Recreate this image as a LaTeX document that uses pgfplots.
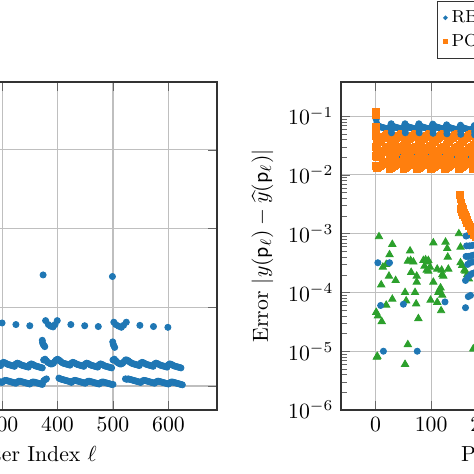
\documentclass[border=0pt]{standalone}
\usepackage{pgfplots}
\usepackage{pgfplotstable}
\pgfplotsset{compat=1.18}

\definecolor{rbblue}{HTML}{1F77B4}
\definecolor{podorange}{HTML}{FF7F0E}
\definecolor{nngreen}{HTML}{2CA02C}

% left panel: two bands of the RB error indicator (x lo hi)
\pgfplotstableread{
x     lo     hi
290   1.065  1.275
292.5 1.060  1.270
295   1.055  1.265
297.5 1.050  1.260
300   1.045  1.290
302.5 1.060  1.300
305   1.070  1.295
307.5 1.070  1.285
310   1.065  1.275
312.5 1.060  1.270
315   1.055  1.265
317.5 1.050  1.260
320   1.045  1.255
322.5 1.040  1.250
325   1.035  1.280
327.5 1.050  1.290
330   1.060  1.285
332.5 1.060  1.275
335   1.055  1.265
337.5 1.050  1.260
340   1.045  1.255
342.5 1.040  1.250
345   1.035  1.245
347.5 1.030  1.240
350   1.025  1.270
352.5 1.040  1.280
355   1.050  1.275
357.5 1.050  1.265
360   1.045  1.255
362.5 1.040  1.250
365   1.035  1.245
367.5 1.030  1.240
370   1.025  1.235
372.5 1.020  1.230
375   1.065  1.330
377.5 1.080  1.340
380   1.090  1.320
382.5 nan    1.300
385   nan    1.290
387.5 nan    1.280
390   nan    1.280
392.5 nan    1.290
395   nan    1.310
397.5 nan    1.330
400   nan    1.340
402.5 1.100  1.330
405   1.090  1.315
407.5 1.085  1.300
410   1.080  1.290
412.5 1.075  1.285
415   1.070  1.280
417.5 1.065  1.275
420   1.060  1.270
422.5 1.055  1.265
425   1.045  1.290
427.5 1.060  1.300
430   1.070  1.295
432.5 1.070  1.285
435   1.065  1.275
437.5 1.060  1.270
440   1.055  1.265
442.5 1.050  1.260
445   1.045  1.255
447.5 1.040  1.250
450   1.035  1.280
452.5 1.050  1.290
455   1.060  1.285
457.5 1.060  1.275
460   1.055  1.265
462.5 1.050  1.260
465   1.045  1.255
467.5 1.040  1.250
470   1.035  1.245
472.5 1.030  1.240
475   1.025  1.270
477.5 1.040  1.280
480   1.050  1.275
482.5 1.050  1.265
485   1.045  1.255
487.5 1.040  1.250
490   1.035  1.245
492.5 1.030  1.240
495   1.025  1.235
497.5 1.020  1.230
500   1.020  1.330
502.5 nan    1.340
505   nan    1.320
507.5 nan    1.300
510   nan    1.290
512.5 nan    1.280
515   nan    1.280
517.5 nan    1.290
520   nan    1.310
522.5 1.090  1.330
525   1.085  1.330
527.5 1.090  1.320
530   1.085  1.305
532.5 1.080  1.295
535   1.075  1.285
537.5 1.070  1.280
540   1.065  1.275
542.5 1.060  1.270
545   1.055  1.265
547.5 1.050  1.260
550   1.045  1.290
552.5 1.060  1.300
555   1.070  1.295
557.5 1.070  1.285
560   1.065  1.275
562.5 1.060  1.270
565   1.055  1.265
567.5 1.050  1.260
570   1.045  1.255
572.5 1.040  1.250
575   1.035  1.280
577.5 1.050  1.290
580   1.060  1.285
582.5 1.060  1.275
585   1.055  1.265
587.5 1.050  1.260
590   1.045  1.255
592.5 1.040  1.250
595   1.035  1.245
597.5 1.030  1.240
600   1.025  1.270
602.5 1.040  1.280
605   1.050  1.275
607.5 1.050  1.265
610   1.045  1.255
612.5 1.040  1.250
615   1.035  1.245
617.5 1.030  1.240
620   1.025  1.235
622.5 1.020  1.230
625   1.015  nan
}\leftbands

% right panel: error bands (blue upper/lower, orange upper/mid/lower)
\pgfplotstableread{
x     bu     bl      ou     om      ol
0     0.100  nan     0.045  0.030   0.0210
2.5   0.070  nan     0.033  0.020   0.0130
5     0.068  nan     0.036  0.021   0.0135
7.5   0.066  nan     0.038  0.022   0.0140
10    0.065  nan     0.040  0.023   0.0145
12.5  0.064  nan     0.042  0.0245  0.0150
15    0.063  nan     0.044  0.026   0.0155
17.5  0.062  nan     0.046  0.0275  0.0160
20    0.061  nan     0.048  0.029   0.0165
22.5  0.060  nan     0.050  0.030   0.0170
25    0.064  nan     0.030  0.019   0.0125
27.5  0.070  0.0215  0.033  0.020   0.0130
30    0.068  0.0213  0.036  0.021   0.0135
32.5  0.066  0.0212  0.038  0.022   0.0140
35    0.065  0.0214  0.040  0.023   0.0145
37.5  0.064  0.0216  0.042  0.0245  0.0150
40    0.063  0.0215  0.044  0.026   0.0155
42.5  0.062  0.0213  0.046  0.0275  0.0160
45    0.061  0.0212  0.048  0.029   0.0165
47.5  0.060  0.0214  0.050  0.030   0.0170
50    0.064  0.0216  0.031  0.019   0.0124
52.5  0.071  0.0215  0.034  0.020   0.0129
55    0.068  0.0213  0.036  0.021   0.0134
57.5  0.066  0.0212  0.038  0.022   0.0139
60    0.065  0.0214  0.040  0.023   0.0145
62.5  0.064  0.0216  0.042  0.0245  0.0150
65    0.063  0.0215  0.044  0.026   0.0155
67.5  0.062  0.0213  0.046  0.0275  0.0160
70    0.061  0.0212  0.048  0.029   0.0165
72.5  0.060  0.0214  0.050  0.030   0.0170
75    0.064  0.0216  0.030  0.019   0.0125
77.5  0.071  0.0215  0.033  0.020   0.0130
80    0.068  0.0213  0.036  0.021   0.0135
82.5  0.066  0.0212  0.038  0.022   0.0140
85    0.065  0.0214  0.040  0.023   0.0145
87.5  0.064  0.0216  0.042  0.0245  0.0150
90    0.063  0.0215  0.044  0.026   0.0155
92.5  0.062  0.0213  0.046  0.0275  0.0160
95    0.061  0.0212  0.048  0.029   0.0165
97.5  0.060  0.0214  0.050  0.030   0.0170
100   0.064  0.0216  0.031  0.019   0.0126
102.5 0.070  0.0215  0.034  0.020   0.0131
105   0.068  0.0213  0.036  0.021   0.0136
107.5 0.066  0.0212  0.038  0.022   0.0141
110   0.065  0.0214  0.040  0.023   0.0146
112.5 0.064  0.0216  0.042  0.0245  0.0151
115   0.063  0.0215  0.044  0.026   0.0156
117.5 0.062  0.0213  0.046  0.0275  0.0161
120   0.061  0.0212  0.048  0.029   0.0166
122.5 0.060  0.0214  0.050  0.030   0.0170
125   0.063  0.0216  0.030  0.019   0.0125
127.5 0.068  0.0215  0.033  0.020   0.0130
130   0.066  0.0213  0.036  0.021   0.0135
132.5 0.064  0.0212  0.038  0.022   0.0140
135   0.063  0.0214  0.040  0.023   0.0145
137.5 0.062  0.0216  0.042  0.0245  0.0150
140   0.061  0.0215  0.044  0.026   0.0155
142.5 0.060  0.0213  0.046  0.0275  0.0160
145   0.059  0.0212  0.048  0.029   0.0165
147.5 0.058  0.0214  0.050  0.030   0.0170
150   0.062  0.0216  0.030  0.019   0.0125
152.5 0.067  0.0215  0.033  0.020   0.0130
155   0.065  0.0213  0.036  0.021   0.0135
157.5 0.063  0.0212  0.038  0.022   0.0140
160   0.062  0.0214  0.040  0.023   0.0145
162.5 0.061  0.0216  0.042  0.0245  0.0150
165   0.060  0.0215  0.044  0.026   0.0155
167.5 0.059  0.0213  0.046  0.0275  0.0160
170   0.058  0.0212  0.048  0.029   0.0165
172.5 0.057  0.0214  0.050  0.030   0.0170
175   0.061  0.0216  0.030  0.019   0.0125
177.5 0.066  0.0215  0.033  0.020   0.0130
180   0.064  0.0213  0.036  0.021   0.0135
182.5 0.062  0.0212  0.038  0.022   0.0140
185   0.061  0.0214  0.040  0.023   0.0145
}\rightbands

\pgfplotsset{
  panel/.style={
    scale only axis, width=191.36pt, height=150.88pt,
    xmin=-62.5, xmax=687.5,
    xtick={0,100,...,600},
    grid=major,
    major grid style={line width=0.5pt, black!25},
    axis line style={black!80, line width=0.6pt},
    tick style={black!60},
    xlabel={Parameter Index $\ell$},
  },
  rbmarks/.style={only marks, mark=*, mark size=1.4pt, color=rbblue},
  podmarks/.style={only marks, mark=square*, mark size=1.55pt, color=podorange},
  nnmarks/.style={only marks, mark=triangle*, mark size=1.9pt, color=nngreen},
}

\begin{document}
\begin{tikzpicture}
\useasboundingbox (0,0) rectangle (218.04pt,218.04pt);
\clip (0,0) rectangle (218.04pt,218.04pt);

% left panel
\begin{axis}[panel,
  at={(-91.54pt,29.44pt)}, anchor=south west,
  ymin=0.695, ymax=4.86, ytick={1,2,3,4},
]
\addplot[rbmarks] table[x=x, y=lo] {\leftbands};
\addplot[rbmarks] table[x=x, y=hi] {\leftbands};
\addplot[rbmarks] coordinates {
 (300,1.80) (325,1.78) (350,1.765)
 (378.5,1.83) (383.5,1.78) (387.5,1.76) (392,1.75) (395.5,1.78) (399.5,1.83)
 (424,1.78) (449,1.765) (473.5,1.755)
 (501.5,1.81) (505,1.78) (510,1.76) (515,1.745) (519,1.77) (524,1.81)
 (548.5,1.77) (573,1.755) (599,1.745)
 (372.5,1.58) (373,1.55) (374,1.53) (375.5,1.515) (377,1.50)
 (499.5,1.56) (500.5,1.53) (501.5,1.51) (503,1.49)
 (374,2.41) (499,2.39)
};
\end{axis}

% right panel
\begin{axis}[panel,
  at={(156.86pt,29.44pt)}, anchor=south west,
  ymode=log, ymin=1e-6, ymax=0.38,
  ytick={1e-6,1e-5,1e-4,1e-3,1e-2,1e-1},
  ylabel={Error $|y(\mathsf{p}_\ell)-\widehat{y}(\mathsf{p}_\ell)|$},
  legend columns=2, transpose legend,
  legend style={at={(0.2296,1.247)}, anchor=north west, font=\footnotesize,
    draw=black!80, line width=0.5pt},
  legend cell align=left,
  legend image post style={scale=0.55},
]
\addplot[rbmarks] table[x=x, y=bu] {\rightbands};
\addlegendentry{RB}
\addplot[podmarks] table[x=x, y=ou] {\rightbands};
\addlegendentry{POD}
\addplot[nnmarks] coordinates {
 (1,4.6e-5) (2,7.9e-6) (3,8.2e-6) (4,4.0e-5) (6,8.9e-4) (10,1.35e-4) (11,3.2e-5)
 (13,2.7e-4) (19,3.0e-4) (19,6.1e-5) (24,1.9e-4) (25,4.4e-4) (30,6.6e-4) (30,7.7e-5)
 (36,1.6e-4) (53,1.0e-4) (53,6.0e-6) (55,7.2e-5) (58,1.3e-5) (58,3.4e-4) (62,5.1e-4)
 (63,3.5e-4) (64,2.2e-4) (68,3.3e-4) (71,1.0e-4) (73,6.4e-5) (74,1.9e-4) (74,1.5e-4)
 (77,3.6e-5) (86,3.5e-4) (88,2.8e-4) (90,3.6e-4) (92,2.4e-4) (93,3.3e-4) (95,3.5e-4)
 (95,2.3e-4) (98,2.7e-4) (99,7.4e-5) (104,1.5e-4) (104,7.0e-4) (111,6.8e-5) (111,2.5e-4)
 (113,1.0e-4) (115,1.1e-4) (117,1.2e-4) (118,4.9e-5) (119,2.4e-4) (120,9.0e-5)
 (120,2.0e-4) (122,1.9e-4) (126,7.2e-4) (129,5.6e-4) (130,4.0e-4) (131,2.5e-4)
 (150,1.0e-3) (153,5.9e-4) (153,3.2e-4) (156,2.9e-4) (160,2.4e-4) (162,2.3e-4)
 (165,2.0e-4) (168,1.7e-4) (176,1.1e-5) (178,1.1e-5)
};
\addlegendentry{NN}
\addplot[rbmarks, forget plot] table[x=x, y=bl] {\rightbands};
\addplot[rbmarks, forget plot] coordinates {
 (0,0.117) (1,0.088) (2,0.075)
 (28,0.074) (28,0.066) (28.5,0.058) (28.5,0.052)
 (53,0.074) (53,0.066) (53.5,0.058) (53.5,0.052)
 (78,0.074) (78,0.066) (78.5,0.058) (78.5,0.052)
 (103,0.073) (103,0.065) (103.5,0.057) (103.5,0.051)
 (128,0.071) (128,0.063) (128.5,0.056) (128.5,0.050)
 (153,0.070) (153,0.062) (153.5,0.055) (153.5,0.049)
 (178,0.069) (178,0.061) (178.5,0.054) (178.5,0.048)
 (4,3.2e-4) (25,3.2e-4) (9,6.0e-5) (50,6.3e-5) (14,1e-5) (75,1e-5) (125,6.9e-5)
 (162,5.5e-5) (167,8.5e-5) (171,8.9e-5) (162,1.6e-4) (166,1.8e-4) (171,2.0e-4)
 (174,2.1e-4) (166,3.0e-4) (170,3.2e-4) (175,3.3e-4) (163,4.1e-4) (167,4.1e-4)
 (172,4.2e-4) (176,4.3e-4) (164,6.2e-4) (169,6.2e-4) (174,6.3e-4) (178,6.4e-4)
 (163,9.1e-4) (168,9.5e-4) (173,1.0e-3) (178,1.05e-3) (180,2.2e-4) (182,4.4e-4)
 (184,6.5e-4)
};
\addplot[podmarks, forget plot] table[x=x, y=om] {\rightbands};
\addplot[podmarks, forget plot] table[x=x, y=ol] {\rightbands};
\addplot[podmarks, forget plot] coordinates {
 (0,0.105) (0.5,0.12) (1,0.065) (1,0.055) (1.5,0.047) (2,0.040) (2,0.034)
 (2.5,0.029) (3,0.025) (1,0.014)
 (152,4.6e-3) (153,3.9e-3) (154.5,3.3e-3) (156,2.9e-3) (157.5,2.6e-3) (159,2.3e-3)
 (161,2.1e-3) (163,1.9e-3) (165,1.7e-3) (167,1.55e-3) (169,1.4e-3) (171,1.3e-3)
 (173,1.2e-3) (175,1.1e-3) (177,1.0e-3) (179,0.95e-3) (181,0.9e-3) (184,0.88e-3)
 (154,2.6e-3) (156,2.3e-3) (158,2.1e-3) (160,1.9e-3) (162,1.7e-3) (165,1.5e-3)
 (168,1.35e-3) (171,1.2e-3) (174,1.1e-3) (177,0.95e-3) (180,0.87e-3)
};
\end{axis}
\end{tikzpicture}
\end{document}
